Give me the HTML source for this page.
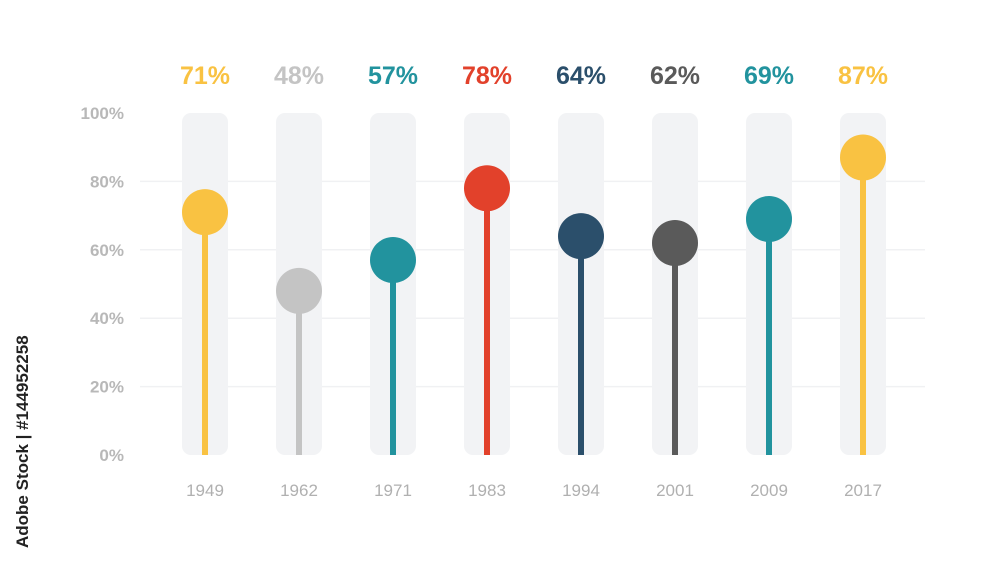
<!DOCTYPE html>
<html><head><meta charset="utf-8">
<style>
html,body{margin:0;padding:0;background:#fff;width:1000px;height:563px;overflow:hidden;font-family:"Liberation Sans",sans-serif;}
svg{display:block}
</style></head>
<body>
<svg id="chart" width="1000" height="563">
<text x="28" y="548" transform="rotate(-90 28 548)" font-size="17" font-weight="bold" fill="#222">Adobe Stock | #144952258</text>
</svg>
<script>
const categories=["1949","1962","1971","1983","1994","2001","2009","2017"];
const values=[71,48,57,78,64,62,69,87];
const colors=["#F9C242","#C4C4C4","#22939E","#E2412B","#2B4F6B","#5A5A5A","#22939E","#F9C242"];
const yTicks=[0,20,40,60,80,100];
const svg=document.getElementById('chart');
const NS="http://www.w3.org/2000/svg";
const y=v=>455-v*3.42;
const x=i=>205+i*94;
function mk(tag,attrs,parent){const e=document.createElementNS(NS,tag);for(const k in attrs)e.setAttribute(k,attrs[k]);(parent||svg).appendChild(e);return e;}
yTicks.forEach(t=>{
  if(t>0&&t<100){const g=mk('line',{x1:140,x2:925,y1:y(t),y2:y(t),stroke:'#f0f1f3','stroke-width':1.5});
  
  }
  const l=mk('text',{x:124,y:y(t)+6,'text-anchor':'end','font-size':17,'font-weight':'bold',fill:'#b8b8b8'});
  l.textContent=t+'%';
  
  
});
categories.forEach((c,i)=>{
  const cx=x(i);
  const bg=mk('rect',{x:cx-23,y:y(100),width:46,height:y(0)-y(100),rx:9,fill:'#f2f3f5'});
  
  
  const st=mk('line',{x1:cx,x2:cx,y1:y(0),y2:y(values[i]),stroke:colors[i],'stroke-width':6});
  
  
  const dot=mk('circle',{cx:cx,cy:y(values[i]),r:23,fill:colors[i]});
  
  
  const vl=mk('text',{x:cx,y:84,'text-anchor':'middle','font-size':25,'font-weight':'bold',fill:colors[i]});
  vl.textContent=values[i]+'%';
  
  
  const xl=mk('text',{x:cx,y:496,'text-anchor':'middle','font-size':17,fill:'#b0b0b0'});
  xl.textContent=c;
  
  
});
</script>
</body></html>
